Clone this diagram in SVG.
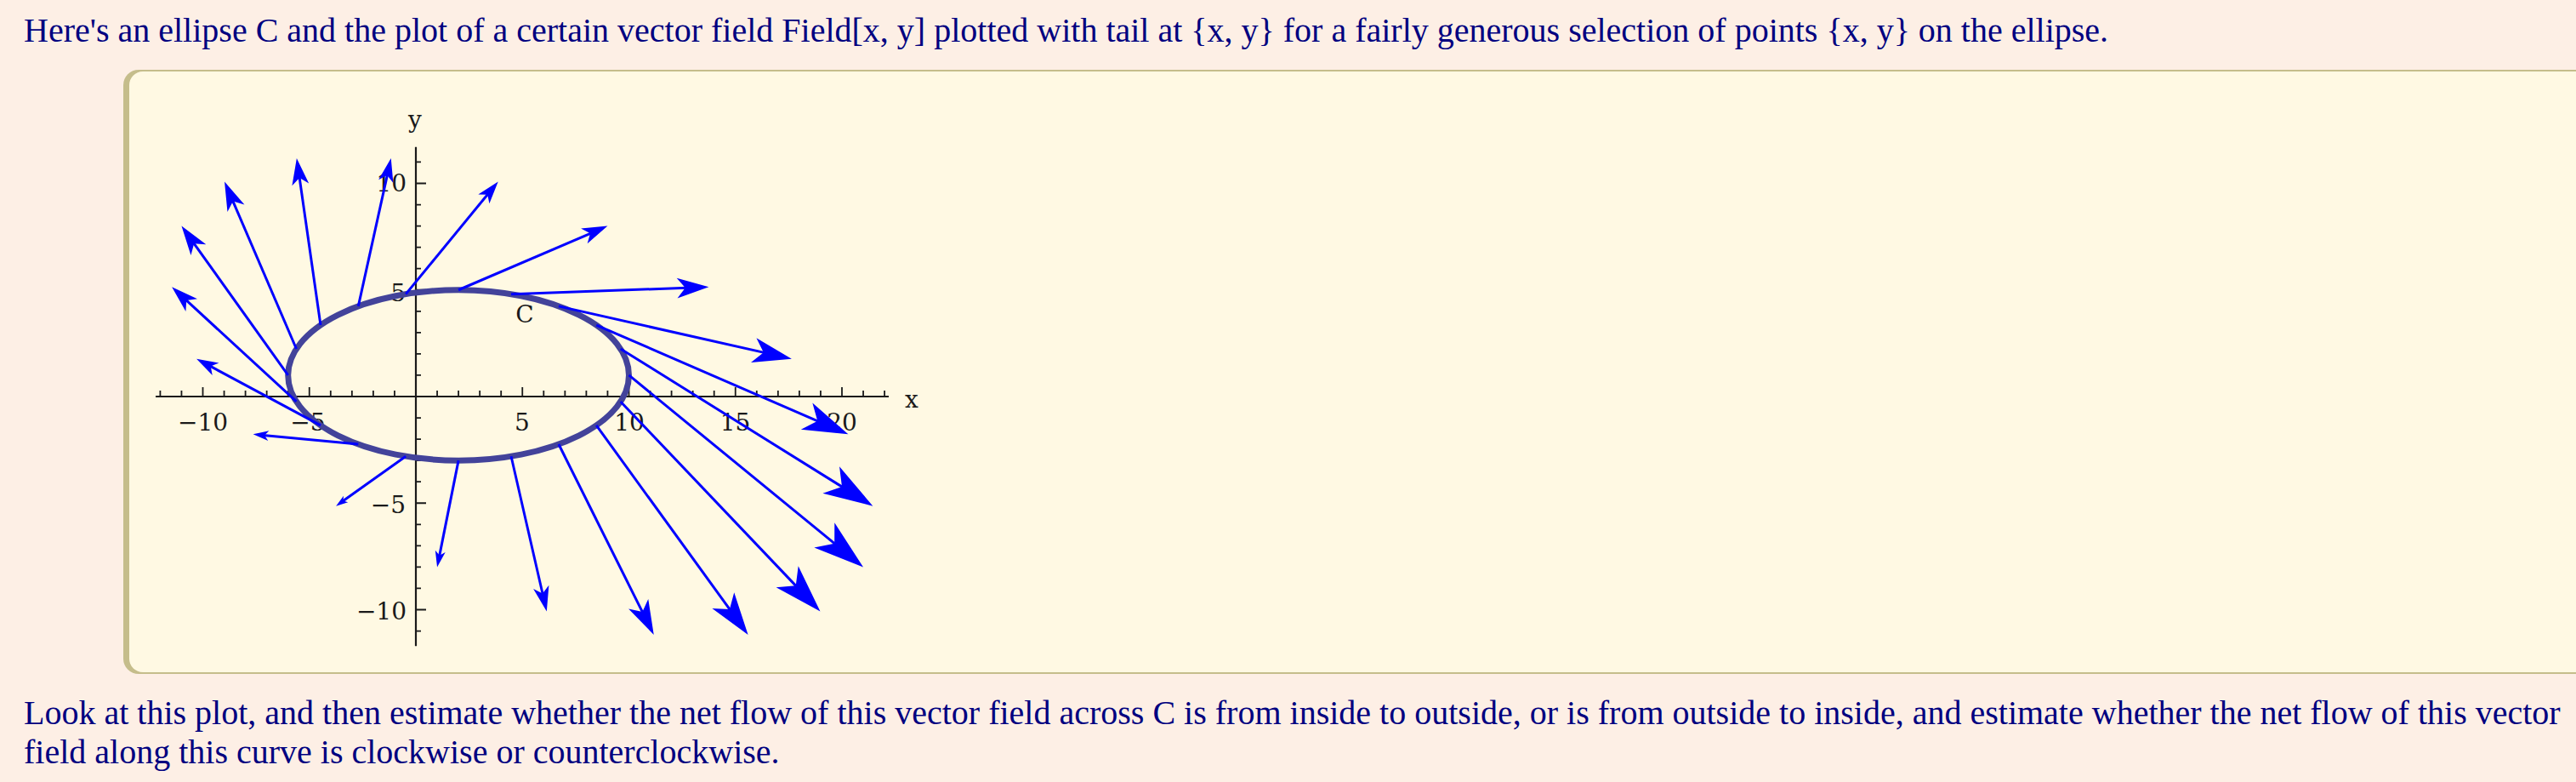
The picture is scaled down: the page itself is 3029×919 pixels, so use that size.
<svg xmlns="http://www.w3.org/2000/svg" xmlns:xlink="http://www.w3.org/1999/xlink" width="3029" height="919" viewBox="0 0 3029 919">
  <style>
    .para { font-family: "Liberation Serif", "Times New Roman", serif; font-size: 40px; fill: #000080; }
    .lbl { font-family: "DejaVu Serif", "Liberation Serif", serif; font-size: 28px; fill: #1a1a1a; }
    .axis { stroke: #1a1a1a; stroke-width: 2.2; fill: none; }
    .tick { stroke: #1a1a1a; stroke-width: 1.8; fill: none; }
    .shaft { stroke: #0000ff; stroke-width: 3; fill: none; }
    .head { fill: #0000ff; }
  </style>
  <defs>
    <path id="ah" d="M0,0 L-1,-0.32 L-0.74,0 L-1,0.32 Z"/>
  </defs>
  <rect x="0" y="0" width="3029" height="919" fill="#fdefe5"/>

  <g id="intro-text">
    <text class="para" x="28" y="49">Here's an ellipse C and the plot of a certain vector field Field[x, y] plotted with tail at {x, y} for a fairly generous selection of points {x, y} on the ellipse.</text>
  </g>

  <g id="panel">
    <rect x="145" y="82" width="3000" height="710" rx="18" ry="18" fill="#c5bd8b"/>
    <rect x="152" y="84" width="3000" height="706" rx="16" ry="16" fill="#fff9e3"/>
  </g>

  <g id="plot">
    <g id="axes">
      <path class="axis" d="M183,466 H1045 M489,172.7 V759.3"/>
      <path class="tick" d="M188.4,466v-7M213.45,466v-7M238.5,466v-11M263.55,466v-7M288.6,466v-7M313.65,466v-7M338.7,466v-7M363.75,466v-11M388.8,466v-7M413.85,466v-7M438.9,466v-7M463.95,466v-7M514.05,466v-7M539.1,466v-7M564.15,466v-7M589.2,466v-7M614.25,466v-11M639.3,466v-7M664.35,466v-7M689.4,466v-7M714.45,466v-7M739.5,466v-11M764.55,466v-7M789.6,466v-7M814.65,466v-7M839.7,466v-7M864.75,466v-11M889.8,466v-7M914.85,466v-7M939.9,466v-7M964.95,466v-7M990,466v-11M1015.05,466v-7M1040.1,466v-7"/>
      <path class="tick" d="M489,190.45h6M489,215.5h12M489,240.55h6M489,265.6h6M489,290.65h6M489,315.7h6M489,340.75h12M489,365.8h6M489,390.85h6M489,415.9h6M489,440.95h6M489,491.05h6M489,516.1h6M489,541.15h6M489,566.2h6M489,591.25h12M489,616.3h6M489,641.35h6M489,666.4h6M489,691.45h6M489,716.5h12M489,741.55h6"/>
      <g id="x-labels" text-anchor="middle">
        <text class="lbl" x="238.5" y="506">−10</text>
        <text class="lbl" x="362" y="506">−5</text>
        <text class="lbl" x="614" y="506">5</text>
        <text class="lbl" x="740" y="506">10</text>
        <text class="lbl" x="864.5" y="506">15</text>
        <text class="lbl" x="990" y="506">20</text>
      </g>
      <g id="y-labels" text-anchor="end">
        <text class="lbl" x="478" y="225">10</text>
        <text class="lbl" x="477" y="354">5</text>
        <text class="lbl" x="477" y="603">−5</text>
        <text class="lbl" x="478" y="728">−10</text>
      </g>
      <text id="x-axis-label" class="lbl" x="1072" y="479" text-anchor="middle">x</text>
      <text id="y-axis-label" class="lbl" x="488" y="150" text-anchor="middle">y</text>
    </g>

    <g id="ellipse-C">
      <ellipse cx="539.1" cy="440.95" rx="200.4" ry="100.2" fill="none" stroke="#43439a" stroke-width="7"/>
      <text class="lbl" x="617" y="379" text-anchor="middle">C</text>
    </g>

    <g id="arrows">
      <line class="shaft" x1="739.5" y1="440.95" x2="992.18" y2="647.69"/>
      <use class="head" xlink:href="#ah" href="#ah" transform="translate(1015.05,666.4) rotate(39.29) scale(59.1)"/>
      <line class="shaft" x1="729.69" y1="409.99" x2="1001.81" y2="579.37"/>
      <use class="head" xlink:href="#ah" href="#ah" transform="translate(1026.39,594.67) rotate(31.9) scale(57.9)"/>
      <line class="shaft" x1="701.23" y1="382.05" x2="972.99" y2="499.76"/>
      <use class="head" xlink:href="#ah" href="#ah" transform="translate(997.4,510.33) rotate(23.42) scale(53.2)"/>
      <line class="shaft" x1="656.89" y1="359.89" x2="908.56" y2="416.63"/>
      <use class="head" xlink:href="#ah" href="#ah" transform="translate(930.9,421.67) rotate(12.71) scale(45.8)"/>
      <line class="shaft" x1="601.03" y1="345.65" x2="814.76" y2="338"/>
      <use class="head" xlink:href="#ah" href="#ah" transform="translate(833.4,337.33) rotate(-2.05) scale(37.3)"/>
      <line class="shaft" x1="539.1" y1="340.75" x2="700.66" y2="271.51"/>
      <use class="head" xlink:href="#ah" href="#ah" transform="translate(714.45,265.6) rotate(-23.2) scale(30)"/>
      <line class="shaft" x1="477.17" y1="345.65" x2="577.28" y2="223.72"/>
      <use class="head" xlink:href="#ah" href="#ah" transform="translate(585.69,213.48) rotate(-50.61) scale(26.5)"/>
      <line class="shaft" x1="421.31" y1="359.89" x2="456.74" y2="199.6"/>
      <use class="head" xlink:href="#ah" href="#ah" transform="translate(459.73,186.08) rotate(-77.53) scale(27.7)"/>
      <line class="shaft" x1="376.97" y1="382.05" x2="351.1" y2="201.51"/>
      <use class="head" xlink:href="#ah" href="#ah" transform="translate(348.89,186.07) rotate(-98.15) scale(31.2)"/>
      <line class="shaft" x1="348.51" y1="409.99" x2="270.74" y2="229.11"/>
      <use class="head" xlink:href="#ah" href="#ah" transform="translate(264.03,213.49) rotate(-113.26) scale(34)"/>
      <line class="shaft" x1="338.7" y1="440.95" x2="223.42" y2="279.55"/>
      <use class="head" xlink:href="#ah" href="#ah" transform="translate(213.45,265.6) rotate(-125.54) scale(34.3)"/>
      <line class="shaft" x1="348.51" y1="471.91" x2="213.66" y2="347.95"/>
      <use class="head" xlink:href="#ah" href="#ah" transform="translate(202.1,337.33) rotate(-137.41) scale(31.4)"/>
      <line class="shaft" x1="376.97" y1="499.85" x2="242.34" y2="427.69"/>
      <use class="head" xlink:href="#ah" href="#ah" transform="translate(231.1,421.67) rotate(-151.81) scale(25.5)"/>
      <line class="shaft" x1="421.31" y1="522.01" x2="306.71" y2="511.19"/>
      <use class="head" xlink:href="#ah" href="#ah" transform="translate(297.6,510.33) rotate(-174.61) scale(18.3)"/>
      <line class="shaft" x1="477.17" y1="536.25" x2="400.84" y2="590.58"/>
      <use class="head" xlink:href="#ah" href="#ah" transform="translate(395.1,594.67) rotate(144.56) scale(14.1)"/>
      <line class="shaft" x1="539.1" y1="541.15" x2="515.9" y2="657.13"/>
      <use class="head" xlink:href="#ah" href="#ah" transform="translate(514.05,666.4) rotate(101.31) scale(18.9)"/>
      <line class="shaft" x1="601.03" y1="536.25" x2="639.54" y2="704.24"/>
      <use class="head" xlink:href="#ah" href="#ah" transform="translate(642.81,718.52) rotate(77.09) scale(29.3)"/>
      <line class="shaft" x1="656.89" y1="522.01" x2="759.72" y2="727.8"/>
      <use class="head" xlink:href="#ah" href="#ah" transform="translate(768.77,745.91) rotate(63.45) scale(40.5)"/>
      <line class="shaft" x1="701.23" y1="499.85" x2="864.97" y2="725.72"/>
      <use class="head" xlink:href="#ah" href="#ah" transform="translate(879.61,745.92) rotate(54.06) scale(49.9)"/>
      <line class="shaft" x1="729.69" y1="471.91" x2="945.06" y2="698.13"/>
      <use class="head" xlink:href="#ah" href="#ah" transform="translate(964.47,718.52) rotate(46.41) scale(56.3)"/>
    </g>
  </g>

  <g id="question-text">
    <text class="para" x="28" y="851">Look at this plot, and then estimate whether the net flow of this vector field across C is from inside to outside, or is from outside to inside, and estimate whether the net flow of this vector</text>
    <text class="para" x="28" y="897">field along this curve is clockwise or counterclockwise.</text>
  </g>
</svg>
